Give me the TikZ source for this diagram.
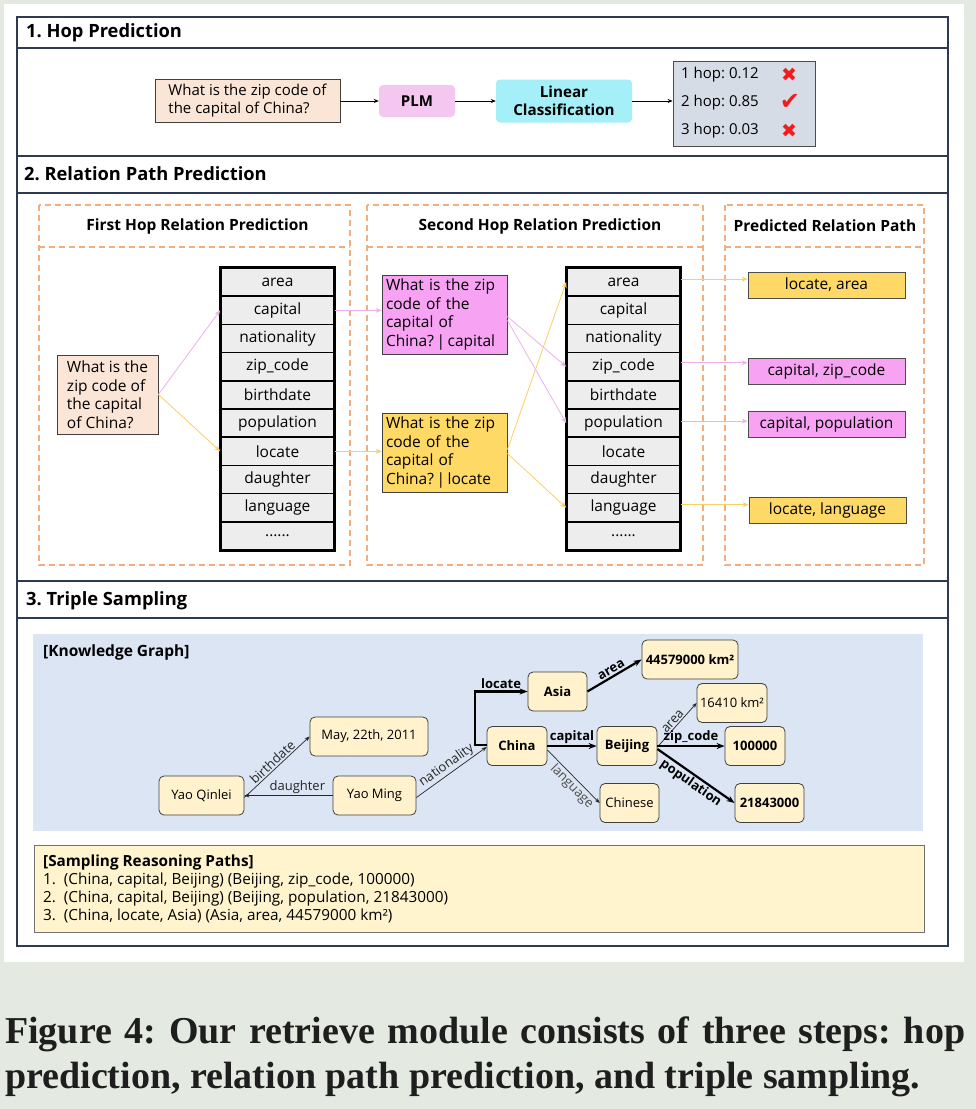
\documentclass[tikz,border=0pt]{standalone}
\usepackage{fontspec}
\setmainfont{Open Sans}
\newfontfamily\capfont{Liberation Serif}
\newfontfamily\symfont{DejaVu Sans}
\usetikzlibrary{arrows.meta,calc}
\definecolor{bgc}{HTML}{E4E9E1}
\definecolor{framec}{HTML}{2E3A4E}
\definecolor{peach}{HTML}{FBE5D6}
\definecolor{plmc}{HTML}{F4C7F0}
\definecolor{cyanc}{HTML}{A5EFF8}
\definecolor{resc}{HTML}{D6DCE5}
\definecolor{dashc}{HTML}{F2AE80}
\definecolor{rowc}{HTML}{EDEDED}
\definecolor{pinkq}{HTML}{F7A2F2}
\definecolor{goldq}{HTML}{FFD966}
\definecolor{pinkline}{HTML}{EEB0EC}
\definecolor{goldline}{HTML}{FAD062}
\definecolor{kgbg}{HTML}{DBE5F3}
\definecolor{kgnode}{HTML}{FFF2CC}
\definecolor{pathbg}{HTML}{FFF4CD}
\definecolor{capc}{HTML}{1E1E1E}
\definecolor{redc}{HTML}{F21C1C}
\newcommand{\fs}[2]{\fontsize{#1}{#2}\selectfont}
\newcommand{\mysixdots}{......}
\frenchspacing
\begin{document}
\begin{tikzpicture}[x=1pt,y=-1pt,
  hdr/.style={anchor=west,font=\fs{18.3}{21}\bfseries,inner sep=0},
  sub/.style={font=\fs{15.5}{18}\bfseries,inner sep=0},
  qbox/.style={draw=black!75,line width=0.8pt,inner sep=0,align=left},
  rbox/.style={rounded corners=4pt,inner sep=0,font=\fs{15}{17}\bfseries,align=center},
  arr/.style={-{Stealth[length=5pt,width=4pt]},line width=0.7pt,black},
  dashbox/.style={draw=dashc,dashed,dash pattern=on 6pt off 4pt,line width=1.3pt},
  rowbox/.style={draw=black,line width=1.6pt,fill=rowc,minimum width=113pt,minimum height=28.2pt,inner sep=0,font=\fs{15.5}{17}},
  parr/.style={-{Stealth[length=6pt,width=5pt]},line width=0.8pt,pinkline},
  garr/.style={-{Stealth[length=6pt,width=5pt]},line width=0.8pt,goldline},
  obox/.style={draw=black!70,line width=0.8pt,minimum width=157pt,minimum height=26pt,inner sep=0,font=\fs{15.5}{17}},
  kgn/.style={draw=black!75,line width=0.8pt,fill=kgnode,rounded corners=5pt,minimum height=39pt,inner sep=0,font=\fs{13}{15}},
  thin/.style={-{Stealth[length=5pt,width=4pt]},line width=0.7pt,black!85},
  thick/.style={-{Stealth[length=8pt,width=6pt]},line width=2.2pt,black},
  lab/.style={font=\fs{13}{15},inner sep=1.5pt},
  blab/.style={font=\fs{13}{15}\bfseries,inner sep=1.5pt}
]
\useasboundingbox (0,0) rectangle (976,1109);
\fill[bgc] (0,0) rectangle (976,1109);
\fill[white] (4,4) rectangle (964,962);
\draw[framec,line width=1.6pt] (17,17) rectangle (948,946);
\foreach \yy in {48,156,193,581,618} \draw[framec,line width=1.2pt] (17,\yy) -- (948,\yy);

% ---------- 1. Hop prediction
\node[hdr] (h1) at (26,33) {1. Hop Prediction};
\node[qbox,fill=peach,minimum width=185pt,minimum height=43pt,font=\fs{15}{18}] (q1) at (247.5,101) {What is the zip code of\\the capital of China?};
\node[rbox,fill=plmc,minimum width=76pt,minimum height=32pt] (plm) at (417,101) {PLM};
\node[rbox,fill=cyanc,minimum width=136pt,minimum height=43pt,font=\fs{15.2}{17.5}\bfseries] (lc) at (564,101) {Linear\\Classification};
\node[draw=black!70,line width=0.8pt,fill=resc,minimum width=142pt,minimum height=85pt,inner sep=0] (res) at (744,103.5) {};
\node[anchor=west,inner sep=0,font=\fs{15}{17}] (h1t) at (681,75) {1 hop: 0.12};
\node[anchor=west,inner sep=0,font=\fs{15}{17}] (h2t) at (681,103) {2 hop: 0.85};
\node[anchor=west,inner sep=0,font=\fs{15}{17}] (h3t) at (681,131) {3 hop: 0.03};
\node[inner sep=0,text=redc,font=\symfont\fs{19}{20}] (x1) at (789,75) {✖};
\node[inner sep=0,text=redc,font=\symfont\fs{24}{24}] (c2) at (790,102) {✔};
\node[inner sep=0,text=redc,font=\symfont\fs{19}{20}] (x3) at (789,131) {✖};
\draw[arr] (q1.east) -- (plm.west);
\draw[arr] (plm.east) -- (lc.west);
\draw[arr] (lc.east) -- (lc.east -| res.west);

% ---------- 2. Relation path prediction
\node[hdr] (h2) at (24,174) {2. Relation Path Prediction};
\draw[dashbox] (39,205) rectangle (350,565); \draw[dashbox] (39,247) -- (350,247);
\draw[dashbox] (367,205) rectangle (703,565); \draw[dashbox] (367,247) -- (703,247);
\draw[dashbox] (725,205) rectangle (924,565); \draw[dashbox] (725,247) -- (924,247);
\node[sub] (s1) at (197.5,226) {First Hop Relation Prediction};
\node[sub] (s2) at (540,226) {Second Hop Relation Prediction};
\node[sub] (s3) at (825,226) {Predicted Relation Path};

\foreach [count=\i] \t in {area,capital,nationality,{zip\_code},birthdate,population,locate,daughter,language,{\mysixdots}} {
  \node[rowbox] (a\i) at (277.5,{268+28.2*(\i-0.5)}) {\t};
  \node[rowbox] (b\i) at (623.5,{268+28.2*(\i-0.5)}) {\t};
}
\draw[line width=2.6pt] (a1.north west) rectangle (a10.south east);
\draw[line width=2.6pt] (b1.north west) rectangle (b10.south east);

\node[qbox,fill=peach,minimum width=101pt,minimum height=79pt,font=\fs{15.5}{18.5}] (q2) at (107.5,394.5) {What is the\\zip code of\\the capital\\of China?};
\node[qbox,fill=pinkq,minimum width=125pt,minimum height=79pt,font=\fs{15.5}{18.5},text width=117pt] (pq) at (444.5,314.5) {What is the zip\\code of the\\capital of\\China?\,|\,capital};
\node[qbox,fill=goldq,minimum width=125pt,minimum height=79pt,font=\fs{15.5}{18.5},text width=117pt] (gq) at (444.5,452.5) {What is the zip\\code of the\\capital of\\China?\,|\,locate};

\draw[parr] (q2.east) -- (a2.west);
\draw[garr] (q2.east) -- (a7.west);
\draw[parr] (a2.east) -- (a2.east -| pq.west);
\draw[garr] (a7.east) -- (a7.east -| gq.west);
\draw[parr] ([yshift=-2pt]pq.east) -- (b4.west);
\draw[parr] ([yshift=-6pt]pq.east) -- (b6.west);
\draw[garr] ([yshift=3pt]gq.east) -- (b1.west);
\draw[garr] ([yshift=-1pt]gq.east) -- (b9.west);

\node[obox,fill=goldq] (o1) at (826.5,285) {locate, area};
\node[obox,fill=pinkq] (o2) at (826.5,371.5) {capital, zip\_code};
\node[obox,fill=pinkq] (o3) at (826.5,424.5) {capital, population};
\node[obox,fill=goldq] (o4) at (827.5,510.5) {locate, language};
\draw[garr] ([yshift=3pt]b1.east) -- ([yshift=3pt]b1.east -| o1.west);
\draw[parr] ([yshift=4pt]b4.east) -- ([yshift=4pt]b4.east -| o2.west);
\draw[parr] ([yshift=2pt]b6.east) -- ([yshift=2pt]b6.east -| o3.west);
\draw[garr] ([yshift=3pt]b9.east) -- ([yshift=3pt]b9.east -| o4.west);

% ---------- 3. Triple sampling
\node[hdr] (h3) at (26,601) {3. Triple Sampling};
\fill[kgbg] (33,634) rectangle (923,831);
\node[anchor=west,inner sep=0,font=\fs{15.5}{17}\bfseries] (kgt) at (43,652) {[Knowledge Graph]};

\node[kgn,minimum width=85pt] (yq) at (201.5,795.5) {Yao Qinlei};
\node[kgn,minimum width=83pt] (ym) at (374.5,795.5) {Yao Ming};
\node[kgn,minimum width=118pt] (may) at (369,736.5) {May, 22th, 2011};
\node[kgn,minimum width=60pt,font=\fs{13}{15}\bfseries] (china) at (517,746) {China};
\node[kgn,minimum width=59pt,font=\fs{13}{15}\bfseries] (asia) at (557.5,691.5) {Asia};
\node[kgn,minimum width=96pt,font=\fs{13}{15}\bfseries] (km1) at (690,659.5) {44579000 km²};
\node[kgn,minimum width=60pt,font=\fs{13}{15}\bfseries] (bj) at (627,746) {Beijing};
\node[kgn,minimum width=70pt] (km2) at (732,703) {16410 km²};
\node[kgn,minimum width=60pt,font=\fs{13}{15}\bfseries] (zip) at (755,746) {100000};
\node[kgn,minimum width=59pt] (chn) at (629.5,803) {Chinese};
\node[kgn,minimum width=69pt,font=\fs{13}{15}\bfseries] (pop) at (769.5,803) {21843000};

\draw[thin] (ym.west) -- node[lab,above,pos=0.4] (l1) {daughter} (yq.east);
\draw[thin] ([yshift=-2pt]yq.east) -- node[lab,above,sloped,pos=0.5] (l2) {birthdate} (may.west);
\draw[thin] ([yshift=-2pt]ym.east) -- node[lab,above,sloped] (l3) {nationality} ([yshift=-1pt]china.west);
\draw[thick] ([yshift=1pt]china.west) -- ++(-12,0) |- node[blab,above,pos=0.75] (l4) {locate} (asia.west);
\draw[thick] (asia.east) -- node[blab,above,sloped] (l5) {area} (km1.west);
\draw[thick] (china.east) -- node[blab,above] (l6) {capital} (bj.west);
\draw[thin] ([yshift=-4pt]china.east) -- node[lab,below,sloped,pos=0.58,text=black!70] (l7) {language} (chn.west);
\draw[thin] ([yshift=-1pt]bj.east) -- node[lab,above,sloped] (l8) {area} (km2.west);
\draw[thick] (bj.east) -- node[blab,above] (l9) {zip\_code} (zip.west);
\draw[thick] ([yshift=-3pt]bj.east) -- node[blab,below,sloped] (l10) {population} (pop.west);

\node[draw=black!55,line width=0.8pt,fill=pathbg,minimum width=890pt,minimum height=87pt,inner sep=0] (pb) at (479,888.5) {};
\node[anchor=north west,inner sep=0,align=left,font=\fs{15.3}{18}] (pt) at (43,855) {{\bfseries [Sampling Reasoning Paths]}\\
1.\ \ (China, capital, Beijing) (Beijing, zip\_code, 100000)\\
2.\ \ (China, capital, Beijing) (Beijing, population, 21843000)\\
3.\ \ (China, locate, Asia) (Asia, area, 44579000 km²)};

% ---------- caption
\node[anchor=base west,inner sep=0,text=capc,font=\capfont\fs{38}{42}\bfseries] (cap1) at (5,1043) {\makebox[960pt][s]{Figure 4: Our retrieve module consists of three steps: hop}};
\node[anchor=base west,inner sep=0,text=capc,font=\capfont\fs{38}{42}\bfseries] (cap2) at (5,1088) {prediction, relation path prediction, and triple sampling.};
\end{tikzpicture}
\end{document}
